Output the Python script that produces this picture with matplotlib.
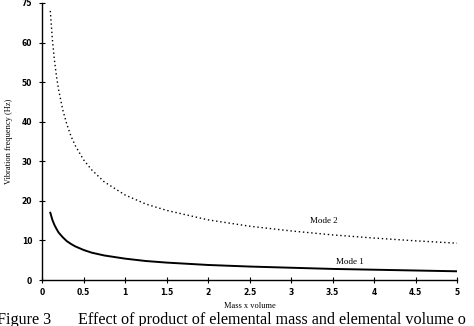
import matplotlib
matplotlib.use("Agg")
import matplotlib.pyplot as plt

# Vibration frequency vs. product of elemental mass and volume
mass_volume = [0.1, 0.125, 0.15, 0.175, 0.2, 0.25, 0.3, 0.35, 0.4, 0.5, 0.6, 0.75,
               1.0, 1.25, 1.5, 2.0, 2.5, 3.0, 3.5, 4.0, 4.5, 5.0]
mode1 = [17, 15.2, 13.9, 12.9, 12.0, 10.8, 9.8, 9.1, 8.5, 7.6, 6.9, 6.2,
         5.4, 4.8, 4.4, 3.8, 3.4, 3.1, 2.8, 2.6, 2.4, 2.2]
mode2 = [68, 60.8, 55.5, 51.4, 48.1, 43.0, 39.3, 36.3, 34.0, 30.4, 27.8, 24.8,
         21.5, 19.2, 17.6, 15.2, 13.6, 12.4, 11.4, 10.6, 9.9, 9.3]

xticks = [0, 0.5, 1, 1.5, 2, 2.5, 3, 3.5, 4, 4.5, 5]
xticklabels = ["0", "0.5", "1", "1.5", "2", "2.5", "3", "3.5", "4", "4.5", "5"]
yticks = [0, 10, 20, 30, 40, 50, 60, 70]
yticklabels = ["0", "10", "20", "30", "40", "50", "60", "75"]

fig = plt.figure(figsize=(4.74, 3.26), dpi=100)
ax = fig.add_axes([42 / 474, 46 / 326, 415 / 474, 277 / 326])

ax.plot(mass_volume, mode1, color="black", lw=1.4)
ax.plot(mass_volume, mode2, color="black", lw=1.0, linestyle=(0, (1, 2)))

ax.text(3.71, 3.6, "Mode 1", fontsize=6.5, family="Liberation Serif", ha="center", va="bottom")
ax.text(3.4, 13.8, "Mode 2", fontsize=6.5, family="Liberation Serif", ha="center", va="bottom")

ax.set_xlim(0, 5)
ax.set_ylim(0, 70)
ax.set_xticks(xticks)
ax.set_xticklabels(xticklabels)
ax.set_yticks(yticks)
ax.set_yticklabels(yticklabels)
ax.tick_params(direction="inout", length=4, width=0.8, labelsize=5.5)
ax.tick_params(axis="x", pad=4)
ax.tick_params(axis="y", pad=5)
for lbl in ax.get_xticklabels() + ax.get_yticklabels():
    lbl.set_fontweight("bold")

for side in ["top", "right"]:
    ax.spines[side].set_visible(False)
for side in ["left", "bottom"]:
    ax.spines[side].set_linewidth(1.0)

ax.set_xlabel("Mass x volume", fontsize=6, family="Liberation Serif", labelpad=3)
ax.set_ylabel("Vibration frequency (Hz)", fontsize=6, family="Liberation Serif", labelpad=6)

# caption below the plot, clipped by the figure edges
fig.text(-3 / 474, 2 / 326, "Figure 3", fontsize=11.6, family="Liberation Serif",
         ha="left", va="baseline")
fig.text(78 / 474, 2 / 326, "Effect of product of elemental mass and elemental volume o",
         fontsize=11.6, family="Liberation Serif", ha="left", va="baseline")

fig.savefig("out.png", dpi=100)
